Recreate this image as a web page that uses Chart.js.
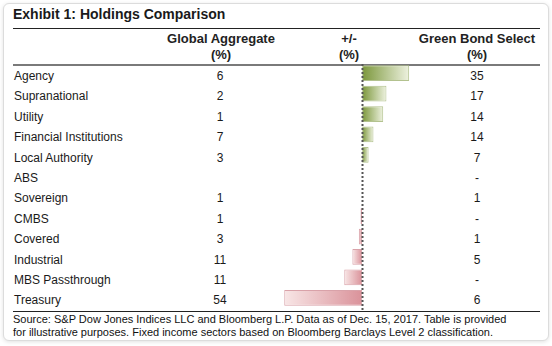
<!DOCTYPE html>
<html>
<head>
<meta charset="utf-8">
<script src="https://cdn.jsdelivr.net/npm/chart.js@4.4.0/dist/chart.umd.min.js"></script>
<style>
  html, body { margin:0; padding:0; background:#fff; }
  body { width:552px; height:346px; position:relative; overflow:hidden; font-family:"Liberation Sans", Arial, sans-serif; color:#1a1a1a; }
  .card { position:absolute; left:3px; top:3px; width:544px; height:336px; border:1px solid #dcdcdc; border-radius:6px; box-shadow:0 1px 4px rgba(0,0,0,0.12); background:#fff; }
  .abs { position:absolute; white-space:nowrap; }
  .title { left:13px; top:5px; font-size:14px; font-weight:bold; line-height:18px; }
  .hline { position:absolute; left:13px; width:527px; }
  .hdr { font-size:13px; font-weight:bold; text-align:center; line-height:16px; top:31px; color:#222; }
  .cell { font-size:12px; line-height:20.4px; height:20.4px; color:#1a1a1a; }
  .src { left:13px; top:313px; font-size:11px; line-height:13px; color:#111; }
  #wrap { position:absolute; left:281px; top:63px; width:146px; height:250px; }
</style>
</head>
<body>
<div class="card"></div>
<div class="abs title">Exhibit 1: Holdings Comparison</div>
<div class="hline" style="top:27.5px;height:1.5px;background:#222;"></div>
<div class="abs hdr" style="left:161px;width:120px;">Global Aggregate<br>(%)</div>
<div class="abs hdr" style="left:319px;width:60px;">+/-<br>(%)</div>
<div class="abs hdr" style="left:412px;width:130px;">Green Bond Select<br>(%)</div>
<div class="hline" style="top:63.5px;height:2px;background:#7a7a7a;"></div>
<div id="rows"></div>
<div class="hline" style="top:310.5px;height:1.5px;background:#222;"></div>
<div class="abs src">Source: S&amp;P Dow Jones Indices LLC and Bloomberg L.P. Data as of Dec. 15, 2017. Table is provided<br>for illustrative purposes. Fixed income sectors based on Bloomberg Barclays Level 2 classification.</div>
<div id="wrap"><canvas id="c" width="146" height="250"></canvas></div>
<script>
const categories = ["Agency","Supranational","Utility","Financial Institutions","Local Authority","ABS","Sovereign","CMBS","Covered","Industrial","MBS Passthrough","Treasury"];
const globalAggregate = ["6","2","1","7","3","","1","1","3","11","11","54"];
const greenBondSelect = ["35","17","14","14","7","-","1","-","1","5","-","6"];
const difference = [29,15,13,7,4,0,0,-1,-2,-6,-11,-48];

const rowTop = 66, rowH = 20.4;
const rowsEl = document.getElementById('rows');
categories.forEach((cat, i) => {
  const top = rowTop + i * rowH;
  const a = document.createElement('div');
  a.className = 'abs cell'; a.style.left = '14px'; a.style.top = top + 'px'; a.textContent = cat;
  const b = document.createElement('div');
  b.className = 'abs cell'; b.style.left = '170px'; b.style.width = '100px'; b.style.textAlign = 'center'; b.style.top = top + 'px'; b.textContent = globalAggregate[i];
  const c = document.createElement('div');
  c.className = 'abs cell'; c.style.left = '427px'; c.style.width = '100px'; c.style.textAlign = 'center'; c.style.top = top + 'px'; c.textContent = greenBondSelect[i];
  rowsEl.appendChild(a); rowsEl.appendChild(b); rowsEl.appendChild(c);
});

function barFill(ctx) {
  const chart = ctx.chart;
  if (!chart.chartArea) return '#999';
  const xs = chart.scales.x;
  const v = ctx.raw;
  const x0 = xs.getPixelForValue(0), x1 = xs.getPixelForValue(v);
  if (Math.abs(x1 - x0) < 0.5) return v >= 0 ? '#8aa24a' : '#dc97a0';
  const g = chart.ctx.createLinearGradient(x0, 0, x1, 0);
  if (v >= 0) { g.addColorStop(0, '#7b973b'); g.addColorStop(1, '#eef2e0'); }
  else { g.addColorStop(0, '#da929a'); g.addColorStop(1, '#f8e6e6'); }
  return g;
}

const zeroLine = {
  id: 'zeroLine',
  afterDatasetsDraw(chart) {
    const c = chart.ctx;
    const x = Math.round(chart.scales.x.getPixelForValue(0)) + 0.5;
    c.save();
    c.strokeStyle = '#555';
    c.lineWidth = 2;
    c.setLineDash([2, 2]);
    c.beginPath();
    c.moveTo(x, 1);
    c.lineTo(x, 248);
    c.stroke();
    c.restore();
  }
};

new Chart(document.getElementById('c'), {
  type: 'bar',
  data: {
    labels: categories,
    datasets: [{
      data: difference,
      backgroundColor: barFill,
      borderColor: (ctx) => ctx.raw >= 0 ? '#b3c28f' : '#d9a2a9',
      borderWidth: 1,
      borderSkipped: false,
      barPercentage: 0.77,
      categoryPercentage: 1
    }]
  },
  options: {
    indexAxis: 'y',
    responsive: false,
    animation: false,
    layout: { padding: { top: 0, bottom: 5, left: 0, right: 0 } },
    plugins: { legend: { display: false }, tooltip: { enabled: false } },
    scales: {
      x: { min: -50, max: 40, display: false },
      y: { display: false }
    }
  },
  plugins: [zeroLine]
});
</script>
</body>
</html>
